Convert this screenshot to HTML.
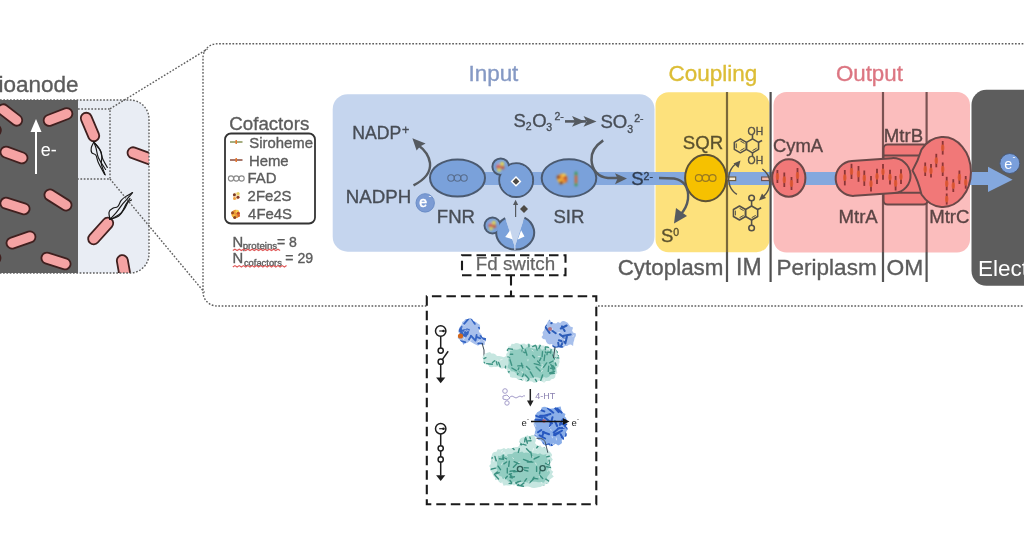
<!DOCTYPE html>
<html><head><meta charset="utf-8">
<style>
html,body{margin:0;padding:0;background:#fff;width:1024px;height:536px;overflow:hidden}
svg{display:block;will-change:transform}
text{font-family:"Liberation Sans",sans-serif}
.m{mix-blend-mode:multiply;stroke:#5c5c5c;stroke-width:0.35px}
</style></head>
<body>
<svg width="1024" height="536" viewBox="0 0 1024 536">
<defs>
  <clipPath id="darkclip"><rect x="0" y="100" width="78" height="173"/></clipPath>
  <clipPath id="lightclip"><path d="M78 100 H130 A19 19 0 0 1 149 119 V254 A19 19 0 0 1 130 273 H78 Z"/></clipPath>
  <marker id="ah" viewBox="0 0 10 10" refX="8" refY="5" markerWidth="4" markerHeight="4" orient="auto-start-reverse">
    <path d="M0 0 L10 5 L0 10 L3 5 Z" fill="#555"/></marker>
  <filter id="bl" filterUnits="userSpaceOnUse" x="-2000" y="-2000" width="5000" height="5000"><feGaussianBlur stdDeviation="1.0"/></filter>
  <filter id="bl2" filterUnits="userSpaceOnUse" x="-2000" y="-2000" width="5000" height="5000"><feGaussianBlur stdDeviation="0.5"/></filter>
</defs>
<text x="-16.6" y="92" font-size="22.5" fill="#5c5c5c" class="m">Bioanode</text>
<rect x="0" y="100" width="78" height="173" fill="#606060"/>
<path d="M78 100 H130 A19 19 0 0 1 149 119 V254 A19 19 0 0 1 130 273 H78 Z" fill="#e9edf4"/>
<g clip-path="url(#darkclip)">
<rect x="-4.0" y="109.5" width="28" height="11" rx="5.5" transform="rotate(38 10 115)" fill="#f5a3a3" stroke="#40201f" stroke-width="1.8"/>
<rect x="-26.0" y="120.5" width="28" height="11" rx="5.5" transform="rotate(30 -12 126)" fill="#f5a3a3" stroke="#40201f" stroke-width="1.8"/>
<rect x="43.0" y="111.5" width="30" height="11" rx="5.5" transform="rotate(-21 58 117)" fill="#f5a3a3" stroke="#40201f" stroke-width="1.8"/>
<rect x="0.0" y="149.5" width="28" height="11" rx="5.5" transform="rotate(20 14 155)" fill="#f5a3a3" stroke="#40201f" stroke-width="1.8"/>
<rect x="0.0" y="200.5" width="30" height="11" rx="5.5" transform="rotate(17 15 206)" fill="#f5a3a3" stroke="#40201f" stroke-width="1.8"/>
<rect x="43.0" y="194.5" width="30" height="11" rx="5.5" transform="rotate(32 58 200)" fill="#f5a3a3" stroke="#40201f" stroke-width="1.8"/>
<rect x="6.0" y="234.5" width="30" height="11" rx="5.5" transform="rotate(-19 21 240)" fill="#f5a3a3" stroke="#40201f" stroke-width="1.8"/>
<rect x="41.0" y="255.5" width="30" height="11" rx="5.5" transform="rotate(18 56 261)" fill="#f5a3a3" stroke="#40201f" stroke-width="1.8"/>
<rect x="-27.0" y="255.5" width="28" height="11" rx="5.5" transform="rotate(-20 -13 261)" fill="#f5a3a3" stroke="#40201f" stroke-width="1.8"/>
</g>
<g clip-path="url(#lightclip)">
<rect x="75.0" y="121.5" width="30" height="11" rx="5.5" transform="rotate(67 90 127)" fill="#f5a3a3" stroke="#40201f" stroke-width="1.8"/>
<rect x="127.0" y="150.5" width="30" height="11" rx="5.5" transform="rotate(20 142 156)" fill="#f5a3a3" stroke="#40201f" stroke-width="1.8"/>
<rect x="84.7" y="225.5" width="32" height="11" rx="5.5" transform="rotate(-48 100.7 231)" fill="#f5a3a3" stroke="#40201f" stroke-width="1.8"/>
<rect x="109.0" y="264.5" width="30" height="11" rx="5.5" transform="rotate(80 124 270)" fill="#f5a3a3" stroke="#40201f" stroke-width="1.8"/>
</g>
<g fill="none" stroke="#161616" stroke-width="1.15" stroke-linecap="round"><path d="M93.8 142.1 C93.4 143.0 91.6 145.8 91.3 147.6 C91.0 149.3 90.9 151.3 91.7 152.6 C92.5 153.9 94.8 153.5 95.9 155.2 C97.0 156.9 96.9 159.5 98.4 162.7 C99.9 165.9 103.7 172.5 104.7 174.5"/><path d="M93.8 142.1 C94.4 142.9 96.4 145.2 97.6 146.8 C98.8 148.4 100.2 149.9 101 151.8 C101.8 153.8 101.5 155.9 102.6 158.5 C103.6 161.1 106.5 165.9 107.3 167.4"/><path d="M93.8 142.1 C94.2 143.0 95.1 145.0 95.9 147.6 C96.7 150.2 96.8 154.0 98.4 157.7 C100.0 161.3 104.4 167.5 105.6 169.5"/><path d="M95 143.4 C95.8 144.4 98.6 147.1 99.7 149.3 C100.8 151.5 101.5 154.3 101.8 156.8 C102.1 159.3 100.8 161.4 101.4 164.4 C102.0 167.4 104.6 173.2 105.2 174.9"/><path d="M109.9 219.3 C109.8 218.1 108.5 213.8 109.1 211.9 C109.6 210.0 111.8 209.0 113.2 208.1 C114.6 207.2 116.4 207.8 117.7 206.6 C119.0 205.4 119.8 202.3 121 200.7 C122.2 199.1 123.2 198.2 125.1 196.9 C127.0 195.6 131.0 193.5 132.2 192.8"/><path d="M109.9 219.3 C111.0 218.2 114.0 215.2 116.2 212.6 C118.4 210.0 120.7 206.4 122.9 203.7 C125.1 201.0 128.0 198.1 129.6 196.2 C131.2 194.3 132.1 193.1 132.6 192.5"/><path d="M109.9 219.3 C111.3 218.8 116.0 218.0 118.4 216.3 C120.8 214.6 122.8 211.2 124.4 208.9 C126.0 206.6 126.9 203.7 128.1 202.2 C129.3 200.7 130.9 200.3 131.5 199.9"/><path d="M109.9 219.3 C110.6 219.1 112.0 218.9 113.9 217.8 C115.8 216.7 119.4 214.8 121.4 212.6 C123.4 210.4 124.5 206.8 125.9 204.4 C127.3 202.0 129.3 199.4 130 198.4"/></g>
<line x1="36" y1="174" x2="36" y2="128" stroke="#fff" stroke-width="2"/>
<path d="M30.5 132 L36 119 L41.5 132 Z" fill="#fff"/>
<text x="40.8" y="155.5" font-size="18" fill="#fff">e-</text>
<path d="M0 100 H130 A19 19 0 0 1 149 119 V254 A19 19 0 0 1 130 273 H0" stroke="#5e5e5e" stroke-width="1.4" stroke-dasharray="1.7 1.63" fill="none"/>
<path d="M78 109 H110 V179 H78" stroke="#5e5e5e" stroke-width="1.4" stroke-dasharray="1.7 1.63" fill="none"/>
<line x1="110" y1="108.8" x2="207.5" y2="49" stroke="#5e5e5e" stroke-width="1.4" stroke-dasharray="1.7 1.63" fill="none"/>
<line x1="110" y1="179" x2="204.5" y2="292.5" stroke="#5e5e5e" stroke-width="1.4" stroke-dasharray="1.7 1.63" fill="none"/>
<path d="M1030 43.8 H217 A14 14 0 0 0 203 57.8 V292 A14 14 0 0 0 217 306 H1030" fill="none" stroke="#5e5e5e" stroke-width="1.4" stroke-dasharray="1.7 1.63"/>
<rect x="332.7" y="94.2" width="321.8" height="157.5" rx="15" fill="#c5d5ee"/>
<rect x="655.5" y="92.2" width="114" height="160" rx="13" fill="#fde17c"/>
<rect x="773.5" y="92" width="196.5" height="160.5" rx="13" fill="#fbbdbd"/>
<rect x="971.5" y="89.8" width="80" height="196" rx="15" fill="#5d5d5d"/>
<text x="468.5" y="80.8" font-size="22.4" fill="#8599c4" stroke="#8599c4" stroke-width="0.35">Input</text>
<text x="668.5" y="80.6" font-size="22.5" fill="#dcbd36" stroke="#dcbd36" stroke-width="0.35">Coupling</text>
<text x="835.9" y="80.6" font-size="22.3" fill="#dc7682" stroke="#dc7682" stroke-width="0.35">Output</text>
<text x="617.7" y="274.8" font-size="22.4" fill="#5c5c5c" class="m">Cytoplasm</text>
<text x="736" y="274.8" font-size="23" fill="#5c5c5c" class="m">IM</text>
<text x="776.6" y="274.8" font-size="22.5" fill="#5c5c5c" class="m">Periplasm</text>
<text x="886.6" y="274.8" font-size="22.8" fill="#5c5c5c" class="m">OM</text>
<text x="977.9" y="276" font-size="22.5" fill="#ffffff">Electrode</text>
<rect x="450" y="172" width="540" height="13" fill="#84a8de"/>
<path d="M988 166.8 L1012.6 179.7 L988 192 Z" fill="#84a8de"/>
<line x1="727" y1="92" x2="727" y2="252" stroke="#7a683a" stroke-width="2.2"/><line x1="727" y1="252" x2="727" y2="282" stroke="#555" stroke-width="2.2"/>
<line x1="770.6" y1="92" x2="770.6" y2="282" stroke="#4f4f4f" stroke-width="2.2"/>
<line x1="883" y1="92" x2="883" y2="252" stroke="#7a5252" stroke-width="2.2"/><line x1="883" y1="252" x2="883" y2="282" stroke="#555" stroke-width="2.2"/>
<line x1="926.6" y1="92" x2="926.6" y2="252" stroke="#7a5252" stroke-width="2.2"/><line x1="926.6" y1="252" x2="926.6" y2="282" stroke="#555" stroke-width="2.2"/>
<text x="229.3" y="129.5" font-size="18.7" fill="#5c5c5c" class="m">Cofactors</text>
<rect x="225" y="133.5" width="90" height="90" rx="6" fill="none" stroke="#333" stroke-width="1.8"/>
<text x="249.3" y="148.1" font-size="14.9" fill="#5c5c5c" class="m">Siroheme</text>
<text x="248.9" y="166.1" font-size="14.9" fill="#5c5c5c" class="m">Heme</text>
<text x="247.5" y="183.4" font-size="14.9" fill="#5c5c5c" class="m">FAD</text>
<text x="247.6" y="201.4" font-size="14.9" fill="#5c5c5c" class="m">2Fe2S</text>
<text x="248.1" y="219" font-size="14.9" fill="#5c5c5c" class="m">4Fe4S</text>
<line x1="230" y1="142" x2="242.5" y2="142" stroke="#7f8a48" stroke-width="1.4"/><line x1="236.2" y1="140" x2="236.2" y2="144" stroke="#e7782e" stroke-width="1.5"/>
<line x1="230" y1="160" x2="242.5" y2="160" stroke="#8a4a3a" stroke-width="1.5"/><line x1="236.2" y1="158" x2="236.2" y2="162" stroke="#e7782e" stroke-width="1.5"/>
<g fill="none" stroke="#8a8a8a" stroke-width="1.1"><circle cx="231" cy="178.5" r="2.6"/><circle cx="236.3" cy="178.5" r="2.6"/><circle cx="241.6" cy="178.5" r="2.6"/></g>
<g transform="translate(236.3 196) scale(1.0)"><circle cx="0" cy="0" r="3.4" fill="#f5d090" opacity="0.7"/><circle cx="1.8" cy="-2.5" r="1.5" fill="#e8d060"/><circle cx="-1.8" cy="2.5" r="1.5" fill="#f0a040"/><circle cx="-1.9" cy="-1.2" r="1.5" fill="#7a3a28"/><circle cx="1.7" cy="1.2" r="1.5" fill="#8a3a28"/></g>
<g transform="translate(235.7 214) scale(1.0)"><circle cx="0" cy="0" r="4.3" fill="#eb9a3a"/><circle cx="1.5" cy="-2.5" r="1.7" fill="#f6d050"/><circle cx="-2" cy="1.8" r="1.5" fill="#f6c040"/><circle cx="-3.2" cy="-1.2" r="1.5" fill="#9a4a20"/><circle cx="2.5" cy="-0.8" r="1.5" fill="#c04a28"/><circle cx="-1" cy="3.4" r="1.5" fill="#8a4420"/><circle cx="3" cy="1.8" r="1.3" fill="#d9602a"/></g>
<text x="232.5" y="246.7" font-size="14.8" fill="#5c5c5c" class="m">N</text><text x="242.7" y="248.9" font-size="9.7" fill="#5c5c5c" class="m">proteins</text><text x="276.9" y="246.7" font-size="14.1" fill="#5c5c5c" class="m">= 8</text>
<text x="232.5" y="263" font-size="14.8" fill="#5c5c5c" class="m">N</text><text x="243.9" y="265.6" font-size="9.4" fill="#5c5c5c" class="m">cofactors</text><text x="285.3" y="263" font-size="14.1" fill="#5c5c5c" class="m">= 29</text>
<path d="M232.8 250.6 l2.15 -1.4 l2.15 1.4 l2.15 -1.4 l2.15 1.4 l2.15 -1.4 l2.15 1.4 l2.15 -1.4 l2.15 1.4 l2.15 -1.4 l2.15 1.4 l2.15 -1.4 l2.15 1.4 l2.15 -1.4 l2.15 1.4 l2.15 -1.4 l2.15 1.4 l2.15 -1.4 l2.15 1.4 l2.15 -1.4 l2.15 1.4 l2.15 -1.4 l2.15 1.4" fill="none" stroke="#e05a5a" stroke-width="1.2"/>
<path d="M232.8 267 l2.15 -1.4 l2.15 1.4 l2.15 -1.4 l2.15 1.4 l2.15 -1.4 l2.15 1.4 l2.15 -1.4 l2.15 1.4 l2.15 -1.4 l2.15 1.4 l2.15 -1.4 l2.15 1.4 l2.15 -1.4 l2.15 1.4 l2.15 -1.4 l2.15 1.4 l2.15 -1.4 l2.15 1.4 l2.15 -1.4 l2.15 1.4 l2.15 -1.4 l2.15 1.4 l2.15 -1.4 l2.15 1.4 l2.15 -1.4" fill="none" stroke="#e05a5a" stroke-width="1.2"/>
<path d="M413.5 185.4 C424 180 431 172 430 163 C429 156 425 150 418 145" fill="none" stroke="#555a60" stroke-width="2.4"/>
<path d="M412.4 138.3 L425.6 143.4 L420 146.5 L416.6 150.6 Z" fill="#555a60"/>
<text x="352.3" y="138.8" font-size="17.6" fill="#5c5c5c" class="m">NADP</text><text x="402" y="133.6" font-size="12.5" fill="#5c5c5c" class="m">+</text>
<text x="345.8" y="203" font-size="18.7" fill="#5c5c5c" class="m">NADPH</text>
<circle cx="425.2" cy="202.9" r="9.2" fill="#7b9bd4" stroke="#6a8cc6" stroke-width="1"/>
<text x="419.3" y="206.6" font-size="14" fill="#fff" stroke="#fff" stroke-width="0.5">e</text><text x="428.5" y="199.2" font-size="9" fill="#fff">-</text>
<ellipse cx="457.5" cy="178" rx="27.5" ry="18.5" fill="#7aa1da" stroke="#4b5a70" stroke-width="2"/>
<g fill="none" stroke="#4f5f78" stroke-width="1.1" opacity="0.8"><circle cx="451" cy="178" r="3.2"/><circle cx="457.5" cy="178" r="3.2"/><circle cx="464" cy="178" r="3.2"/></g>
<text x="436.8" y="222.8" font-size="18.6" fill="#5c5c5c" class="m">FNR</text>
<circle cx="516.2" cy="180.2" r="16.9" fill="#7aa1da" stroke="#4b5a70" stroke-width="2"/>
<circle cx="500.7" cy="166.7" r="8.3" fill="#7aa1da" stroke="#4b5a70" stroke-width="2"/>
<circle cx="516.2" cy="180.2" r="15.9" fill="#7aa1da"/>
<g filter="url(#bl)"><g transform="translate(500.7 166.7) scale(1.0)"><circle cx="-2.2" cy="0" r="2.2" fill="#d85a48"/><circle cx="1.8" cy="0.8" r="2" fill="#c85a40"/><circle cx="1.4" cy="-3" r="2" fill="#ecd848"/><circle cx="-1.6" cy="3.4" r="1.9" fill="#dcd858"/><circle cx="-2.5" cy="-2.8" r="1.2" fill="#c8a0c0"/></g></g>
<path d="M516 176 L521.4 181.4 L516 186.8 L510.6 181.4 Z" fill="#fff"/><path d="M516 178 L519.4 181.4 L516 184.8 L512.6 181.4 Z" fill="#4d4a45"/>
<line x1="515.6" y1="217" x2="515.6" y2="204" stroke="#555a60" stroke-width="1.2"/><path d="M513 205 L515.6 199.8 L518.2 205 Z" fill="#555a60"/>
<path d="M524 205 L528 209 L524 213 L520 209 Z" fill="#4d4a45"/>
<circle cx="492.5" cy="225.5" r="7" fill="none" stroke="#4b5a70" stroke-width="4"/>
<path d="M524 218.6 A18 16 0 1 1 505.6 219" fill="none" stroke="#4b5a70" stroke-width="4"/>
<circle cx="492.5" cy="225.5" r="7" fill="#7aa1da"/>
<path d="M524 218.6 A18 16 0 1 1 505.6 219 L514.8 247 Z" fill="#7aa1da"/>
<path d="M505.6 219 L514.8 247 L524 218.6" fill="#c5d5ee"/>
<line x1="514.8" y1="246" x2="514.9" y2="250" stroke="#c5d5ee" stroke-width="1.3"/>
<g filter="url(#bl)"><g transform="translate(492.5 225.5) scale(0.95)"><circle cx="-2.2" cy="0" r="2.2" fill="#d85a48"/><circle cx="1.8" cy="0.8" r="2" fill="#c85a40"/><circle cx="1.4" cy="-3" r="2" fill="#ecd848"/><circle cx="-1.6" cy="3.4" r="1.9" fill="#dcd858"/><circle cx="-2.5" cy="-2.8" r="1.2" fill="#c8a0c0"/></g></g>
<path d="M510.2 230.2 L505.2 236.9 L512.7 239.4 Z" fill="#fff"/><path d="M521.1 230.2 L524.5 236.5 L517.8 239.4 Z" fill="#fff"/>
<ellipse cx="569" cy="178" rx="27.3" ry="18.8" fill="#7aa1da" stroke="#4b5a70" stroke-width="2"/>
<g filter="url(#bl)"><g transform="translate(562.3 178.6) scale(1.2)"><circle cx="0" cy="0" r="4.3" fill="#eb9a3a"/><circle cx="1.5" cy="-2.5" r="1.7" fill="#f6d050"/><circle cx="-2" cy="1.8" r="1.5" fill="#f6c040"/><circle cx="-3.2" cy="-1.2" r="1.5" fill="#9a4a20"/><circle cx="2.5" cy="-0.8" r="1.5" fill="#c04a28"/><circle cx="-1" cy="3.4" r="1.5" fill="#8a4420"/><circle cx="3" cy="1.8" r="1.3" fill="#d9602a"/></g></g>
<g filter="url(#bl)"><line x1="576" y1="171.7" x2="576" y2="186.2" stroke="#3f9a52" stroke-width="2.6"/><line x1="576" y1="175.5" x2="576" y2="183" stroke="#d8643a" stroke-width="2.4"/></g>
<text x="553.4" y="222.8" font-size="18.6" fill="#5c5c5c" class="m">SIR</text>
<text x="513.6" y="127" font-size="18.5" fill="#5c5c5c" class="m">S</text><text x="525.7" y="130.3" font-size="10.5" fill="#5c5c5c" class="m">2</text><text x="532.2" y="127" font-size="18.5" fill="#5c5c5c" class="m">O</text><text x="546.2" y="130.5" font-size="10.5" fill="#5c5c5c" class="m">3</text><text x="554.4" y="119.5" font-size="10.5" fill="#5c5c5c" class="m">2-</text>
<line x1="565" y1="121.4" x2="586" y2="121.4" stroke="#555a60" stroke-width="2.6"/><path d="M572 116 L585 121.4 L572 126.8 L575 121.4 Z" fill="#555a60"/><path d="M583.5 116 L596.5 121.4 L583.5 126.8 L586.5 121.4 Z" fill="#555a60"/>
<text x="600.4" y="128.4" font-size="18.6" fill="#5c5c5c" class="m">SO</text><text x="627.2" y="132.8" font-size="10.5" fill="#5c5c5c" class="m">3</text><text x="634.2" y="122.4" font-size="10.5" fill="#5c5c5c" class="m">2-</text>
<path d="M603.2 140.4 C595 146 591 153 591.5 160 C592 170 598 177 608 178 L618 178" fill="none" stroke="#555a60" stroke-width="2.5"/>
<path d="M615 173.3 L627 178.6 L615 184.2 L617.5 178.6 Z" fill="#555a60"/>
<text x="631.3" y="185.4" font-size="18.6" fill="#5c5c5c" class="m">S</text><text x="643.6" y="180" font-size="10.5" fill="#5c5c5c" class="m">2-</text>
<ellipse cx="705.7" cy="178" rx="20.6" ry="23.2" fill="#f6c100" stroke="#5e5234" stroke-width="2"/>
<g fill="none" stroke="#9a7a20" stroke-width="1.2"><circle cx="698.8" cy="178" r="3.4"/><circle cx="705.7" cy="178" r="3.4"/><circle cx="712.6" cy="178" r="3.4"/></g>
<text x="682.8" y="148.6" font-size="18.6" fill="#5c5c5c" class="m">SQR</text>
<path d="M659 178 L674 178.5 C684 180 689 188 688 199 C687 207 683 212 680 215" fill="none" stroke="#555a60" stroke-width="2.4"/>
<path d="M674 223.5 L676 208 L687 216 Z" fill="#555a60"/>
<text x="660.9" y="242.3" font-size="18.6" fill="#5c5c5c" class="m">S</text><text x="673.3" y="235.9" font-size="10.5" fill="#5c5c5c" class="m">0</text>
<rect x="727.2" y="177" width="8.5" height="3.6" fill="#f6ead0" stroke="#6b5a3a" stroke-width="1.1"/>
<rect x="761.6" y="177" width="8.5" height="3.6" fill="#f2b8a8" stroke="#6b5050" stroke-width="1.1"/>
<path d="M736.9 194.3 C730 190 727.5 182 729 175 C730 170 732 167 735 164.5" fill="none" stroke="#55524a" stroke-width="1.4"/><path d="M740.5 160.5 L738.5 168 L733.5 163.5 Z" fill="#55524a"/>
<path d="M762.3 169 C767 172 770 178 769.8 184 C769.5 189 767 193 764 196" fill="none" stroke="#55524a" stroke-width="1.4"/><path d="M759 200.5 L762 193.5 L766 198 Z" fill="#55524a"/>
<g fill="none" stroke="#545048" stroke-width="1.55" stroke-linejoin="round"><polygon points="740.39,152.80 734.33,149.30 734.33,142.30 740.39,138.80 746.45,142.30 746.45,149.30"/><polygon points="752.51,152.80 746.45,149.30 746.45,142.30 752.51,138.80 758.57,142.30 758.57,149.30"/><line x1="736.27" y1="148.18" x2="736.27" y2="143.42" stroke-width="1"/><line x1="740.39" y1="141.04" x2="744.51" y2="143.42" stroke-width="1"/><line x1="744.51" y1="148.18" x2="740.39" y2="150.56" stroke-width="1"/><line x1="756.63" y1="148.18" x2="752.51" y2="150.56" stroke-width="1"/><line x1="758.57" y1="142.30" x2="762.07" y2="140.50"/></g>
<g stroke="#545048" stroke-width="1.55"><line x1="752.5" y1="138.8" x2="752.5" y2="135"/><line x1="752.5" y1="152.8" x2="752.5" y2="156.5"/></g>
<text x="747.6" y="134.6" font-size="10.4" fill="#545048" stroke="#545048" stroke-width="0.35">OH</text><text x="747.6" y="163.5" font-size="10.4" fill="#545048" stroke="#545048" stroke-width="0.35">OH</text>
<g fill="none" stroke="#545048" stroke-width="1.55" stroke-linejoin="round"><polygon points="739.49,220.00 733.43,216.50 733.43,209.50 739.49,206.00 745.55,209.50 745.55,216.50"/><polygon points="751.61,220.00 745.55,216.50 745.55,209.50 751.61,206.00 757.67,209.50 757.67,216.50"/><line x1="735.37" y1="215.38" x2="735.37" y2="210.62" stroke-width="1"/><line x1="739.49" y1="208.24" x2="743.61" y2="210.62" stroke-width="1"/><line x1="743.61" y1="215.38" x2="739.49" y2="217.76" stroke-width="1"/><line x1="755.73" y1="215.38" x2="751.61" y2="217.76" stroke-width="1"/><line x1="757.67" y1="209.50" x2="761.17" y2="207.70"/></g>
<g fill="none" stroke="#545048" stroke-width="1.55"><line x1="751.6" y1="206" x2="751.6" y2="201"/><line x1="751.6" y1="220" x2="751.6" y2="225"/><circle cx="751.6" cy="198" r="2.8"/><circle cx="751.6" cy="228" r="2.8"/></g>
<ellipse cx="788.8" cy="178" rx="16.6" ry="18.7" fill="#f17878" stroke="#6b4848" stroke-width="2"/>
<line x1="777.4" y1="170" x2="777.4" y2="183" stroke="#8a3535" stroke-width="1.8"/><ellipse cx="777.4" cy="176.5" rx="1.7" ry="3.4" fill="#e45a30" opacity="0.85" filter="url(#bl2)"/>
<line x1="784.3" y1="172.5" x2="784.3" y2="187" stroke="#8a3535" stroke-width="1.8"/><ellipse cx="784.3" cy="179.75" rx="1.7" ry="3.4" fill="#e45a30" opacity="0.85" filter="url(#bl2)"/>
<line x1="791.5" y1="177" x2="791.5" y2="190" stroke="#8a3535" stroke-width="1.8"/><ellipse cx="791.5" cy="183.5" rx="1.7" ry="3.4" fill="#e45a30" opacity="0.85" filter="url(#bl2)"/>
<line x1="797.5" y1="168" x2="797.5" y2="183" stroke="#8a3535" stroke-width="1.8"/><ellipse cx="797.5" cy="175.5" rx="1.7" ry="3.4" fill="#e45a30" opacity="0.85" filter="url(#bl2)"/>
<text x="773" y="151.8" font-size="18.4" fill="#5c5c5c" class="m">CymA</text>
<rect x="883.5" y="144.6" width="44" height="60" rx="4" fill="#f17878" stroke="#6b4848" stroke-width="2"/>
<line x1="883.5" y1="155.4" x2="927.5" y2="155.4" stroke="#6b4848" stroke-width="2"/><line x1="883.5" y1="192.7" x2="927.5" y2="192.7" stroke="#6b4848" stroke-width="2"/>
<rect x="835.6" y="159.5" width="75" height="35" rx="17.5" transform="rotate(-4 873 177)" fill="#f17878" stroke="#6b4848" stroke-width="2"/>
<line x1="844.8" y1="170" x2="844.8" y2="185.4" stroke="#8a3535" stroke-width="1.8"/><ellipse cx="844.8" cy="177.7" rx="1.7" ry="3.4" fill="#e45a30" opacity="0.85" filter="url(#bl2)"/>
<line x1="851.5" y1="163.8" x2="851.5" y2="179" stroke="#8a3535" stroke-width="1.8"/><ellipse cx="851.5" cy="171.4" rx="1.7" ry="3.4" fill="#e45a30" opacity="0.85" filter="url(#bl2)"/>
<line x1="858.5" y1="166" x2="858.5" y2="181.8" stroke="#8a3535" stroke-width="1.8"/><ellipse cx="858.5" cy="173.9" rx="1.7" ry="3.4" fill="#e45a30" opacity="0.85" filter="url(#bl2)"/>
<line x1="864.3" y1="170.5" x2="864.3" y2="185.9" stroke="#8a3535" stroke-width="1.8"/><ellipse cx="864.3" cy="178.2" rx="1.7" ry="3.4" fill="#e45a30" opacity="0.85" filter="url(#bl2)"/>
<line x1="871" y1="176" x2="871" y2="191.5" stroke="#8a3535" stroke-width="1.8"/><ellipse cx="871" cy="183.75" rx="1.7" ry="3.4" fill="#e45a30" opacity="0.85" filter="url(#bl2)"/>
<line x1="877" y1="168.7" x2="877" y2="184" stroke="#8a3535" stroke-width="1.8"/><ellipse cx="877" cy="176.35" rx="1.7" ry="3.4" fill="#e45a30" opacity="0.85" filter="url(#bl2)"/>
<line x1="883" y1="164" x2="883" y2="179.7" stroke="#8a3535" stroke-width="1.8"/><ellipse cx="883" cy="171.85" rx="1.7" ry="3.4" fill="#e45a30" opacity="0.85" filter="url(#bl2)"/>
<line x1="890" y1="169.7" x2="890" y2="184.6" stroke="#8a3535" stroke-width="1.8"/><ellipse cx="890" cy="177.14999999999998" rx="1.7" ry="3.4" fill="#e45a30" opacity="0.85" filter="url(#bl2)"/>
<line x1="895.6" y1="176" x2="895.6" y2="190.5" stroke="#8a3535" stroke-width="1.8"/><ellipse cx="895.6" cy="183.25" rx="1.7" ry="3.4" fill="#e45a30" opacity="0.85" filter="url(#bl2)"/>
<line x1="901" y1="169.2" x2="901" y2="184" stroke="#8a3535" stroke-width="1.8"/><ellipse cx="901" cy="176.6" rx="1.7" ry="3.4" fill="#e45a30" opacity="0.85" filter="url(#bl2)"/>
<path d="M912.5 170.5 Q918 161 921.5 149.5 A28 35 0 1 1 921.5 194.5 Q918 180 912.5 170.5 Z" fill="#f17878" stroke="#6b4848" stroke-width="2" stroke-linejoin="round"/>
<line x1="942.7" y1="141" x2="942.7" y2="154.6" stroke="#8a3535" stroke-width="1.8"/><ellipse cx="942.7" cy="147.8" rx="1.7" ry="3.4" fill="#e45a30" opacity="0.85" filter="url(#bl2)"/>
<line x1="936.3" y1="153.8" x2="936.3" y2="167.3" stroke="#8a3535" stroke-width="1.8"/><ellipse cx="936.3" cy="160.55" rx="1.7" ry="3.4" fill="#e45a30" opacity="0.85" filter="url(#bl2)"/>
<line x1="942.7" y1="162.5" x2="942.7" y2="176" stroke="#8a3535" stroke-width="1.8"/><ellipse cx="942.7" cy="169.25" rx="1.7" ry="3.4" fill="#e45a30" opacity="0.85" filter="url(#bl2)"/>
<line x1="925.2" y1="162.5" x2="925.2" y2="176" stroke="#8a3535" stroke-width="1.8"/><ellipse cx="925.2" cy="169.25" rx="1.7" ry="3.4" fill="#e45a30" opacity="0.85" filter="url(#bl2)"/>
<line x1="931" y1="164" x2="931" y2="177.6" stroke="#8a3535" stroke-width="1.8"/><ellipse cx="931" cy="170.8" rx="1.7" ry="3.4" fill="#e45a30" opacity="0.85" filter="url(#bl2)"/>
<line x1="946.7" y1="176.8" x2="946.7" y2="190.3" stroke="#8a3535" stroke-width="1.8"/><ellipse cx="946.7" cy="183.55" rx="1.7" ry="3.4" fill="#e45a30" opacity="0.85" filter="url(#bl2)"/>
<line x1="946.7" y1="193.5" x2="946.7" y2="204.6" stroke="#8a3535" stroke-width="1.8"/><ellipse cx="946.7" cy="199.05" rx="1.7" ry="3.4" fill="#e45a30" opacity="0.85" filter="url(#bl2)"/>
<line x1="953.3" y1="179.2" x2="953.3" y2="192" stroke="#8a3535" stroke-width="1.8"/><ellipse cx="953.3" cy="185.6" rx="1.7" ry="3.4" fill="#e45a30" opacity="0.85" filter="url(#bl2)"/>
<line x1="959.4" y1="170.5" x2="959.4" y2="184" stroke="#8a3535" stroke-width="1.8"/><ellipse cx="959.4" cy="177.25" rx="1.7" ry="3.4" fill="#e45a30" opacity="0.85" filter="url(#bl2)"/>
<line x1="965.7" y1="176" x2="965.7" y2="188.7" stroke="#8a3535" stroke-width="1.8"/><ellipse cx="965.7" cy="182.35" rx="1.7" ry="3.4" fill="#e45a30" opacity="0.85" filter="url(#bl2)"/>
<text x="883.8" y="141.5" font-size="18.6" fill="#5c5c5c" class="m">MtrB</text>
<text x="838.5" y="222.7" font-size="18.6" fill="#5c5c5c" class="m">MtrA</text>
<text x="929.2" y="222.7" font-size="18.6" fill="#5c5c5c" class="m">MtrC</text>
<circle cx="1009.8" cy="163.5" r="10" fill="#7a9fdb" stroke="#4a5a78" stroke-width="1"/>
<text x="1004.3" y="168.8" font-size="14.5" fill="#fff">e</text><text x="1012.6" y="160.3" font-size="9" fill="#fff">-</text>
<text x="475.8" y="269.7" font-size="18.8" fill="#666666" class="m" style="stroke:#666;stroke-width:0.25px">Fd switch</text>
<path d="M471 255.2 H462 V275.2 H565.5 V255.2 H471" fill="none" stroke="#1a1a1a" stroke-width="2.1" stroke-dasharray="9.5 5" stroke-dashoffset="0"/>
<rect x="426.8" y="296.3" width="169.5" height="207.9" fill="#fff"/>
<path d="M511 276 V296.3 H596.3 V504.2 H426.8 V296.3 H511" fill="none" stroke="#1a1a1a" stroke-width="2.1" stroke-dasharray="9.5 5"/>
<g fill="none" stroke="#1e1e1e" stroke-width="1.5"><circle cx="440.7" cy="331" r="5.2"/><line x1="439.2" y1="331" x2="443.2" y2="331" stroke-width="1.2"/><line x1="440.7" y1="336.2" x2="440.7" y2="348"/><circle cx="440.7" cy="350.6" r="2.6"/><line x1="442.3" y1="359.6" x2="448.2" y2="351.3"/><circle cx="440.7" cy="361.7" r="2.6"/><line x1="440.7" y1="364.3" x2="440.7" y2="378"/></g><circle cx="443.5" cy="331" r="1.3" fill="#1e1e1e"/><path d="M436.09999999999997 377.5 L445.3 377.5 L440.7 383.3 Z" fill="#1e1e1e"/>
<g fill="none" stroke="#1e1e1e" stroke-width="1.5"><circle cx="440.7" cy="428.7" r="5.2"/><line x1="439.2" y1="428.7" x2="443.2" y2="428.7" stroke-width="1.2"/><line x1="440.7" y1="433.9" x2="440.7" y2="445.7"/><circle cx="440.7" cy="448.3" r="2.6"/><line x1="440.7" y1="450.9" x2="440.7" y2="456.8"/><circle cx="440.7" cy="459.4" r="2.6"/><line x1="440.7" y1="462.0" x2="440.7" y2="475.7"/></g><circle cx="443.5" cy="428.7" r="1.3" fill="#1e1e1e"/><path d="M436.09999999999997 475.2 L445.3 475.2 L440.7 481.0 Z" fill="#1e1e1e"/>
<clipPath id="p1"><path d="M462.1 322.1 L463.9 320.9 L465.5 319.1 L468.0 319.1 L470.0 318.0 L472.1 319.2 L473.6 321.3 L476.0 322.0 L477.9 323.4 L479.8 324.8 L480.1 326.7 L479.9 328.9 L478.7 330.7 L479.5 332.4 L481.3 334.3 L482.3 337.2 L486.1 338.2 L485.8 340.5 L484.7 342.7 L484.0 345.3 L481.9 344.4 L479.9 344.3 L478.0 345.8 L476.6 345.1 L474.4 344.0 L472.3 342.8 L469.6 340.9 L468.0 342.6 L466.0 343.2 L463.4 344.6 L462.5 342.5 L460.8 341.2 L459.5 339.5 L457.6 337.9 L458.6 336.0 L459.5 334.1 L458.3 331.7 L458.8 329.7 L459.7 327.8 L460.5 325.9 L461.9 324.1 Z"/></clipPath><path d="M462.1 322.1 L463.9 320.9 L465.5 319.1 L468.0 319.1 L470.0 318.0 L472.1 319.2 L473.6 321.3 L476.0 322.0 L477.9 323.4 L479.8 324.8 L480.1 326.7 L479.9 328.9 L478.7 330.7 L479.5 332.4 L481.3 334.3 L482.3 337.2 L486.1 338.2 L485.8 340.5 L484.7 342.7 L484.0 345.3 L481.9 344.4 L479.9 344.3 L478.0 345.8 L476.6 345.1 L474.4 344.0 L472.3 342.8 L469.6 340.9 L468.0 342.6 L466.0 343.2 L463.4 344.6 L462.5 342.5 L460.8 341.2 L459.5 339.5 L457.6 337.9 L458.6 336.0 L459.5 334.1 L458.3 331.7 L458.8 329.7 L459.7 327.8 L460.5 325.9 L461.9 324.1 Z" fill="#a8c0ec"/><path d="M470.8 336.4 l-1.8 3.1 M458.3 328.5 l4.1 4.7 M476.6 334.8 l-1.0 5.6 M461.9 330.3 l5.8 3.2 M459.6 340.9 l5.6 1.3 M467.1 329.3 l-2.7 1.5 M459.6 343.6 l-0.1 3.4 M484.7 344.5 l4.4 1.6 M461.6 326.8 l-1.4 3.4 M476.8 319.4 l5.4 3.2 M468.8 329.7 l-1.5 4.7 M468.4 318.9 l-4.5 5.2 M484.4 336.6 l1.9 4.0 M476.6 336.9 l3.7 1.4 M467.8 332.3 l-4.1 2.8 M458.8 341.0 l1.1 5.0 M464.0 330.0 l2.1 5.7 M460.8 333.4 l4.9 3.1 M459.0 325.7 l2.6 4.9 M459.4 330.9 l3.3 2.5 M470.9 344.8 l0.4 6.8 M462.5 343.9 l1.6 3.4 M478.2 343.5 l4.1 0.1 M478.8 327.6 l2.2 2.1 M459.1 335.3 l-7.0 0.4 M471.6 318.7 l3.3 5.2 M480.5 335.9 l3.8 3.4 M470.9 335.6 l4.6 5.0 " clip-path="url(#p1)" stroke="#3565c4" stroke-width="1.8" stroke-linecap="round" fill="none" opacity="1.0"/><path d="M465.0 337.2 l-1.5 2.3 M463.0 324.5 l1.3 0.6 M477.8 321.6 l-0.1 1.4 M466.0 330.1 l-1.9 1.1 M458.4 325.7 l2.5 1.2 M479.9 340.6 l-2.1 1.3 M483.6 340.2 l1.9 1.9 M471.1 339.1 l-0.4 1.8 M467.8 330.0 l0.7 1.0 " clip-path="url(#p1)" stroke="#ffffff" stroke-width="1.0" stroke-linecap="round" fill="none" opacity="0.55"/>
<circle cx="460.5" cy="336" r="2.6" fill="#d2681e"/>
<path d="M482 343 Q485 350 484 357" stroke="#3d4a55" stroke-width="1" fill="none"/>
<clipPath id="p2"><path d="M483.3 355.7 L485.2 353.6 L487.5 352.7 L490.0 352.0 L491.4 353.6 L493.8 353.4 L495.6 354.4 L497.0 356.0 L499.2 356.0 L501.5 356.6 L503.8 357.2 L506.3 356.1 L506.2 354.0 L507.8 352.2 L506.5 349.9 L508.2 348.1 L508.2 346.6 L510.3 346.6 L511.7 343.8 L513.9 343.9 L515.8 343.1 L517.9 343.2 L519.9 344.1 L522.1 343.7 L524.3 343.6 L526.3 344.8 L528.7 343.1 L530.7 344.7 L532.7 345.5 L535.1 344.2 L537.1 346.1 L539.4 344.3 L541.5 345.6 L543.7 345.5 L545.8 346.2 L548.0 346.0 L549.9 347.7 L552.0 349.0 L555.1 348.2 L556.4 350.1 L558.0 351.9 L557.0 354.1 L559.1 355.8 L559.3 357.8 L559.3 359.9 L559.6 362.1 L558.7 364.2 L558.5 366.5 L556.6 368.3 L556.9 370.7 L557.3 373.0 L555.5 374.5 L555.2 377.2 L553.7 378.7 L551.3 379.3 L550.0 380.7 L548.0 381.1 L546.0 381.1 L544.1 382.7 L542.0 381.4 L539.9 380.7 L538.1 381.0 L536.0 382.4 L533.9 382.8 L532.0 381.5 L530.0 381.3 L528.0 381.3 L525.9 381.6 L524.1 379.9 L521.9 380.4 L520.0 379.8 L517.9 379.6 L516.2 378.1 L514.2 377.7 L512.3 377.8 L510.0 377.0 L509.9 374.6 L508.2 373.3 L507.6 371.3 L506.4 369.1 L504.5 368.1 L501.7 368.7 L499.9 367.7 L498.0 366.5 L496.0 367.0 L494.0 366.8 L491.9 367.2 L489.4 366.9 L488.1 364.5 L485.3 364.3 L482.9 362.2 L483.5 359.7 L482.4 357.5 Z"/></clipPath><path d="M483.3 355.7 L485.2 353.6 L487.5 352.7 L490.0 352.0 L491.4 353.6 L493.8 353.4 L495.6 354.4 L497.0 356.0 L499.2 356.0 L501.5 356.6 L503.8 357.2 L506.3 356.1 L506.2 354.0 L507.8 352.2 L506.5 349.9 L508.2 348.1 L508.2 346.6 L510.3 346.6 L511.7 343.8 L513.9 343.9 L515.8 343.1 L517.9 343.2 L519.9 344.1 L522.1 343.7 L524.3 343.6 L526.3 344.8 L528.7 343.1 L530.7 344.7 L532.7 345.5 L535.1 344.2 L537.1 346.1 L539.4 344.3 L541.5 345.6 L543.7 345.5 L545.8 346.2 L548.0 346.0 L549.9 347.7 L552.0 349.0 L555.1 348.2 L556.4 350.1 L558.0 351.9 L557.0 354.1 L559.1 355.8 L559.3 357.8 L559.3 359.9 L559.6 362.1 L558.7 364.2 L558.5 366.5 L556.6 368.3 L556.9 370.7 L557.3 373.0 L555.5 374.5 L555.2 377.2 L553.7 378.7 L551.3 379.3 L550.0 380.7 L548.0 381.1 L546.0 381.1 L544.1 382.7 L542.0 381.4 L539.9 380.7 L538.1 381.0 L536.0 382.4 L533.9 382.8 L532.0 381.5 L530.0 381.3 L528.0 381.3 L525.9 381.6 L524.1 379.9 L521.9 380.4 L520.0 379.8 L517.9 379.6 L516.2 378.1 L514.2 377.7 L512.3 377.8 L510.0 377.0 L509.9 374.6 L508.2 373.3 L507.6 371.3 L506.4 369.1 L504.5 368.1 L501.7 368.7 L499.9 367.7 L498.0 366.5 L496.0 367.0 L494.0 366.8 L491.9 367.2 L489.4 366.9 L488.1 364.5 L485.3 364.3 L482.9 362.2 L483.5 359.7 L482.4 357.5 Z" fill="#c6e6e0"/><path d="M510.1 350.8 L512.1 350.4 L514.0 349.2 L516.1 349.7 L518.1 349.5 L520.0 348.6 L522.0 348.4 L524.1 348.5 L526.0 347.8 L527.9 346.6 L529.8 347.7 L531.9 348.0 L533.8 348.8 L535.9 348.8 L537.8 349.5 L540.2 348.1 L541.9 349.9 L544.2 349.0 L545.8 351.1 L548.2 350.0 L550.0 351.2 L552.1 351.2 L554.3 352.0 L553.8 354.1 L553.9 356.1 L555.0 358.0 L554.2 360.1 L554.1 362.1 L555.9 363.9 L555.8 366.0 L555.3 368.1 L556.0 370.0 L555.0 372.2 L552.5 372.9 L550.7 374.3 L549.5 376.3 L548.0 377.3 L546.0 377.7 L544.0 376.9 L542.0 378.3 L540.0 378.3 L538.0 377.4 L536.0 377.3 L534.0 377.0 L532.0 378.3 L530.0 378.1 L528.0 377.6 L526.0 376.6 L524.0 376.5 L522.0 377.6 L520.4 376.5 L518.1 376.0 L516.7 374.3 L515.4 372.4 L513.5 371.4 L510.9 371.2 L509.9 369.0 L507.7 368.0 L507.7 365.9 L508.6 364.0 L508.7 362.0 L508.2 359.9 L508.7 357.9 L509.3 356.0 L509.5 354.0 L509.9 352.0 Z" fill="#92cdc1" clip-path="url(#p2)"/><path d="M555.8 348.5 l6.0 0.4 M497.0 347.7 l-1.5 3.0 M550.6 352.0 l-3.3 0.4 M528.7 379.4 l-3.1 4.8 M536.8 344.9 l-4.1 1.6 M506.6 350.4 l-3.9 2.0 M554.3 373.2 l-4.2 0.5 M536.1 366.9 l4.0 4.2 M506.7 373.5 l-4.6 0.7 M493.8 375.2 l-1.4 2.4 M486.7 363.7 l5.7 0.6 M521.5 363.2 l1.3 4.5 M552.7 355.0 l1.7 4.0 M505.6 366.2 l-0.5 3.7 M534.2 363.6 l5.8 1.6 M510.0 359.8 l1.7 5.5 M555.4 363.0 l0.7 2.3 M551.1 349.7 l-0.5 3.4 M507.9 356.9 l1.8 1.2 M523.7 374.0 l-1.3 2.5 M535.7 345.0 l1.5 5.1 M553.0 361.0 l-3.5 1.9 M522.8 365.8 l-5.0 0.1 M519.0 371.4 l-1.5 3.1 M542.6 375.0 l-1.9 5.4 M484.4 362.5 l-1.4 3.1 M496.0 370.0 l0.6 3.0 M486.2 380.7 l1.1 2.2 M499.4 352.9 l-2.5 1.1 M504.0 346.8 l0.3 2.8 M509.2 371.7 l-5.2 1.2 M485.9 357.7 l-1.9 1.0 M498.4 362.1 l1.8 4.7 M537.6 361.1 l2.1 2.1 M503.2 345.5 l-1.3 2.3 M550.6 368.2 l3.9 0.7 M528.9 344.6 l0.1 2.1 M541.2 343.2 l-2.4 5.4 M547.3 352.1 l-0.3 2.5 M509.0 376.7 l-1.7 1.1 M511.9 368.0 l4.4 2.7 M550.9 364.5 l2.3 4.9 M522.0 350.3 l1.7 2.0 M546.7 362.9 l-3.1 4.3 M557.0 350.4 l1.6 5.3 M540.9 358.1 l-1.3 2.5 M495.3 345.0 l1.1 2.7 M522.3 380.8 l3.8 2.0 M548.7 366.3 l-0.4 5.1 M484.7 380.0 l-2.9 4.4 M545.7 346.8 l2.7 0.6 M521.4 379.6 l-3.5 1.0 M530.3 371.9 l3.0 5.1 M554.6 371.4 l-5.0 1.6 M532.6 355.5 l1.9 2.3 M487.4 379.1 l1.2 1.7 M507.0 347.0 l0.6 3.3 M496.3 361.6 l0.9 3.3 M544.8 355.0 l-0.7 5.5 M555.9 357.6 l5.8 0.7 M522.1 351.5 l2.7 1.2 M506.6 348.4 l5.9 0.9 M545.3 347.4 l0.3 5.2 M521.3 345.7 l1.7 3.1 M552.5 365.7 l0.6 4.5 M486.7 369.8 l-3.9 2.7 M510.4 354.2 l2.3 0.1 M494.7 360.7 l-2.2 1.8 M518.9 367.8 l-0.8 1.9 M553.0 365.8 l1.7 2.4 M535.4 379.4 l1.8 3.1 M525.3 349.8 l1.7 5.4 M525.3 375.1 l3.7 4.0 M542.5 351.8 l-0.4 4.7 M526.5 366.5 l3.1 2.9 " clip-path="url(#p2)" stroke="#3f9484" stroke-width="1.4" stroke-linecap="round" fill="none" opacity="1.0"/><path d="M553.3 380.0 l-1.1 0.4 M528.0 359.5 l-0.1 1.3 M497.6 360.3 l1.5 1.2 M484.9 346.3 l-1.1 1.5 M522.0 371.6 l0.5 1.0 M542.5 366.0 l-1.1 2.0 M556.8 357.1 l-1.3 1.2 M526.5 368.8 l0.6 1.0 M519.0 371.0 l-0.5 1.8 M531.8 350.1 l1.4 0.9 M545.0 350.6 l1.1 0.4 M486.0 353.7 l-0.6 2.6 M508.1 357.4 l1.0 1.3 M542.1 364.4 l0.8 0.9 M542.6 370.6 l-1.3 0.8 M524.5 378.8 l-0.8 2.8 M495.7 381.0 l1.8 0.3 M484.8 374.6 l-1.6 2.5 M544.2 380.0 l-0.4 3.0 M539.9 356.5 l-1.7 0.1 M497.7 346.0 l0.1 1.4 M554.0 380.1 l0.9 0.8 M523.2 349.6 l-0.4 2.6 M502.2 359.4 l-1.8 0.6 M509.1 377.8 l-2.3 1.5 " clip-path="url(#p2)" stroke="#ffffff" stroke-width="1.0" stroke-linecap="round" fill="none" opacity="0.55"/>
<clipPath id="p3"><path d="M544.9 326.7 L546.4 324.6 L547.5 322.2 L549.2 319.6 L551.0 321.8 L553.3 322.9 L556.1 323.6 L557.9 322.0 L560.2 323.0 L561.9 321.2 L563.9 321.0 L565.3 321.6 L567.6 322.7 L568.9 324.6 L570.3 326.4 L573.1 327.5 L572.1 330.4 L573.0 332.5 L575.9 333.5 L575.8 335.9 L574.6 338.0 L574.1 340.4 L573.4 342.6 L573.1 346.1 L570.9 344.6 L568.9 344.8 L567.0 346.0 L565.0 346.1 L563.3 347.6 L561.2 347.8 L558.9 347.2 L557.3 347.4 L554.8 347.7 L552.8 347.0 L552.1 344.0 L549.5 344.5 L547.4 343.6 L546.2 341.8 L545.5 339.5 L543.0 339.0 L541.5 336.9 L543.1 334.9 L542.5 332.5 L543.9 330.5 L544.7 328.4 Z"/></clipPath><path d="M544.9 326.7 L546.4 324.6 L547.5 322.2 L549.2 319.6 L551.0 321.8 L553.3 322.9 L556.1 323.6 L557.9 322.0 L560.2 323.0 L561.9 321.2 L563.9 321.0 L565.3 321.6 L567.6 322.7 L568.9 324.6 L570.3 326.4 L573.1 327.5 L572.1 330.4 L573.0 332.5 L575.9 333.5 L575.8 335.9 L574.6 338.0 L574.1 340.4 L573.4 342.6 L573.1 346.1 L570.9 344.6 L568.9 344.8 L567.0 346.0 L565.0 346.1 L563.3 347.6 L561.2 347.8 L558.9 347.2 L557.3 347.4 L554.8 347.7 L552.8 347.0 L552.1 344.0 L549.5 344.5 L547.4 343.6 L546.2 341.8 L545.5 339.5 L543.0 339.0 L541.5 336.9 L543.1 334.9 L542.5 332.5 L543.9 330.5 L544.7 328.4 Z" fill="#a8c0ec"/><path d="M544.6 326.0 l4.9 6.9 M558.9 340.2 l6.2 2.0 M570.7 334.6 l-8.3 1.5 M554.6 320.0 l-3.3 3.2 M542.3 340.5 l-7.2 3.9 M574.4 325.6 l4.5 1.2 M575.2 323.1 l3.6 2.0 M543.7 321.1 l2.1 4.3 M552.5 346.0 l7.0 4.1 M567.1 335.9 l-1.8 7.6 M562.0 326.4 l2.7 4.5 M555.6 347.6 l1.0 4.2 M558.2 342.8 l1.3 7.4 M545.1 321.7 l-2.1 3.7 M552.3 330.8 l3.4 2.4 M542.2 346.6 l-4.9 7.3 M558.7 346.7 l-6.4 3.0 M559.9 334.2 l4.5 3.8 M566.6 325.5 l-5.8 3.0 M562.5 343.0 l-2.1 4.2 M550.4 320.0 l8.7 0.8 M562.2 347.1 l-4.3 3.5 " clip-path="url(#p3)" stroke="#2c5cb8" stroke-width="2.0" stroke-linecap="round" fill="none" opacity="1.0"/><path d="M561.4 337.7 l-1.3 0.8 M564.2 344.9 l-1.3 0.4 M564.2 337.3 l-0.0 2.9 M560.0 332.5 l-2.2 0.4 M552.2 328.7 l0.0 1.1 M562.7 340.6 l0.6 2.6 M573.6 335.6 l-0.7 1.0 " clip-path="url(#p3)" stroke="#ffffff" stroke-width="1.0" stroke-linecap="round" fill="none" opacity="0.55"/>
<circle cx="550" cy="329" r="2" fill="#b07080"/>
<path d="M555 347 L553.5 358" stroke="#3d4a55" stroke-width="1" fill="none"/>
<g fill="none" stroke="#9a92c4" stroke-width="0.9"><circle cx="505" cy="391" r="2.3"/><circle cx="507" cy="403" r="2.2"/><path d="M503 396 L507 395 L510 398 L507 400 L503 399 Z"/><path d="M510 397 q2 -2 4 0 q2 2 4 0 q2 -2 4 0 q2 -2 3 -1"/></g>
<line x1="530.3" y1="389" x2="530.3" y2="402" stroke="#222" stroke-width="1.5"/><path d="M527 400.5 L530.3 406.6 L533.6 400.5 Z" fill="#222"/>
<text x="535.2" y="399.4" font-size="9" fill="#8a80b0">4-HT</text>
<clipPath id="p4"><path d="M537.2 412.2 L539.1 411.3 L541.0 410.2 L541.7 407.4 L544.0 406.8 L546.1 407.1 L548.0 407.9 L549.9 408.8 L551.9 408.5 L554.0 408.3 L555.8 407.3 L557.9 407.1 L560.7 406.5 L561.1 408.8 L561.8 411.0 L563.1 412.7 L565.5 413.9 L564.6 416.2 L566.2 417.9 L566.5 419.9 L565.6 422.2 L567.7 424.1 L565.7 425.9 L567.5 428.1 L567.3 430.1 L565.7 431.9 L566.7 434.0 L566.4 436.3 L564.1 437.1 L563.9 439.4 L561.7 440.3 L562.0 443.0 L560.1 444.4 L558.2 445.5 L555.8 443.7 L553.9 444.8 L552.1 445.9 L549.9 446.2 L548.3 444.5 L545.7 445.4 L543.7 444.5 L542.3 442.7 L540.9 440.6 L538.2 439.8 L536.9 437.6 L534.6 436.0 L534.8 434.0 L534.9 432.0 L535.6 429.9 L535.2 427.9 L534.3 426.0 L533.5 423.9 L534.7 422.0 L534.4 419.9 L535.4 418.0 L535.1 415.8 L536.1 413.9 Z"/></clipPath><path d="M537.2 412.2 L539.1 411.3 L541.0 410.2 L541.7 407.4 L544.0 406.8 L546.1 407.1 L548.0 407.9 L549.9 408.8 L551.9 408.5 L554.0 408.3 L555.8 407.3 L557.9 407.1 L560.7 406.5 L561.1 408.8 L561.8 411.0 L563.1 412.7 L565.5 413.9 L564.6 416.2 L566.2 417.9 L566.5 419.9 L565.6 422.2 L567.7 424.1 L565.7 425.9 L567.5 428.1 L567.3 430.1 L565.7 431.9 L566.7 434.0 L566.4 436.3 L564.1 437.1 L563.9 439.4 L561.7 440.3 L562.0 443.0 L560.1 444.4 L558.2 445.5 L555.8 443.7 L553.9 444.8 L552.1 445.9 L549.9 446.2 L548.3 444.5 L545.7 445.4 L543.7 444.5 L542.3 442.7 L540.9 440.6 L538.2 439.8 L536.9 437.6 L534.6 436.0 L534.8 434.0 L534.9 432.0 L535.6 429.9 L535.2 427.9 L534.3 426.0 L533.5 423.9 L534.7 422.0 L534.4 419.9 L535.4 418.0 L535.1 415.8 L536.1 413.9 Z" fill="#8aaee8"/><path d="M555.1 408.0 l3.5 4.1 M558.3 433.4 l-4.3 1.5 M547.9 408.2 l5.4 4.5 M534.9 414.8 l-3.3 6.5 M541.3 430.0 l-3.3 2.3 M560.6 434.2 l2.4 4.3 M565.6 420.1 l4.4 1.3 M562.0 430.5 l-6.9 4.8 M551.7 445.0 l2.7 6.8 M561.4 431.1 l-6.8 3.1 M557.3 408.8 l4.3 3.8 M536.6 416.1 l5.4 1.8 M555.0 421.2 l2.1 4.8 M542.8 443.5 l-3.4 6.8 M539.6 435.4 l5.5 3.1 M566.7 432.0 l-1.4 8.0 M561.8 437.3 l3.2 2.8 M544.4 417.4 l7.6 5.9 M562.9 419.3 l-3.0 5.6 M564.2 424.9 l3.7 4.1 M552.5 417.2 l-2.5 9.1 M547.2 415.6 l-7.1 0.1 M537.0 408.8 l7.3 2.6 M560.1 423.5 l6.2 1.2 M566.9 427.6 l-9.1 0.8 M534.4 435.1 l-3.9 6.1 M542.8 432.0 l6.2 2.3 M549.0 444.2 l-5.2 2.1 M550.5 414.0 l-8.9 2.5 M543.8 431.9 l-1.7 4.6 M559.2 428.0 l-5.5 4.6 M534.0 419.6 l9.6 0.6 " clip-path="url(#p4)" stroke="#2858c0" stroke-width="2.0" stroke-linecap="round" fill="none" opacity="1.0"/><path d="M535.3 434.2 l1.7 0.8 M556.2 437.9 l0.3 2.0 M534.6 423.9 l1.1 2.5 M552.1 436.5 l0.3 1.3 M562.1 439.0 l0.5 1.1 M550.9 426.3 l-1.7 1.4 M550.7 429.4 l0.4 1.0 M536.0 443.7 l-1.4 0.8 M563.3 427.4 l2.6 0.9 M553.3 443.4 l-0.6 1.0 " clip-path="url(#p4)" stroke="#ffffff" stroke-width="1.0" stroke-linecap="round" fill="none" opacity="0.55"/>
<circle cx="544" cy="421" r="1.8" fill="#c06070"/>
<clipPath id="p5"><path d="M492.3 453.6 L494.0 452.0 L496.4 451.7 L497.7 449.3 L500.0 449.6 L502.0 448.9 L504.0 448.0 L506.0 449.2 L508.0 447.9 L509.8 448.5 L512.0 448.3 L513.9 447.5 L515.9 447.0 L518.1 446.9 L518.8 445.9 L520.5 443.8 L519.3 441.4 L519.9 439.2 L521.2 438.1 L523.3 437.2 L525.3 436.4 L527.4 435.3 L529.8 436.4 L531.8 435.1 L533.7 435.1 L535.1 436.9 L535.8 438.8 L535.8 440.9 L534.9 443.1 L536.2 444.4 L537.9 445.9 L540.3 445.8 L542.0 447.5 L544.4 447.3 L546.8 448.2 L548.1 449.9 L549.6 451.4 L551.0 453.0 L552.2 455.0 L551.0 457.1 L552.8 459.5 L551.3 461.6 L550.0 463.7 L550.8 466.0 L551.2 468.0 L551.1 470.1 L553.3 471.8 L551.7 474.2 L553.8 476.5 L551.9 478.1 L549.8 479.6 L549.0 481.8 L548.0 483.9 L545.8 483.6 L544.2 485.6 L542.1 485.9 L540.3 487.1 L538.2 487.3 L536.0 487.7 L533.9 488.1 L531.9 487.8 L530.0 487.0 L528.0 486.6 L526.0 486.4 L524.0 487.0 L521.9 487.1 L520.0 486.8 L517.9 486.7 L516.1 484.6 L514.0 485.4 L512.1 484.5 L510.0 485.6 L508.0 485.4 L506.0 485.3 L503.5 485.7 L502.7 483.3 L500.4 483.1 L498.9 481.7 L497.7 479.8 L495.0 480.1 L495.0 477.7 L493.4 476.0 L492.6 474.0 L491.8 472.1 L490.2 470.4 L490.5 468.0 L489.1 465.9 L490.8 463.9 L490.7 461.7 L491.8 459.6 L491.0 457.3 L491.9 455.2 Z"/></clipPath><path d="M492.3 453.6 L494.0 452.0 L496.4 451.7 L497.7 449.3 L500.0 449.6 L502.0 448.9 L504.0 448.0 L506.0 449.2 L508.0 447.9 L509.8 448.5 L512.0 448.3 L513.9 447.5 L515.9 447.0 L518.1 446.9 L518.8 445.9 L520.5 443.8 L519.3 441.4 L519.9 439.2 L521.2 438.1 L523.3 437.2 L525.3 436.4 L527.4 435.3 L529.8 436.4 L531.8 435.1 L533.7 435.1 L535.1 436.9 L535.8 438.8 L535.8 440.9 L534.9 443.1 L536.2 444.4 L537.9 445.9 L540.3 445.8 L542.0 447.5 L544.4 447.3 L546.8 448.2 L548.1 449.9 L549.6 451.4 L551.0 453.0 L552.2 455.0 L551.0 457.1 L552.8 459.5 L551.3 461.6 L550.0 463.7 L550.8 466.0 L551.2 468.0 L551.1 470.1 L553.3 471.8 L551.7 474.2 L553.8 476.5 L551.9 478.1 L549.8 479.6 L549.0 481.8 L548.0 483.9 L545.8 483.6 L544.2 485.6 L542.1 485.9 L540.3 487.1 L538.2 487.3 L536.0 487.7 L533.9 488.1 L531.9 487.8 L530.0 487.0 L528.0 486.6 L526.0 486.4 L524.0 487.0 L521.9 487.1 L520.0 486.8 L517.9 486.7 L516.1 484.6 L514.0 485.4 L512.1 484.5 L510.0 485.6 L508.0 485.4 L506.0 485.3 L503.5 485.7 L502.7 483.3 L500.4 483.1 L498.9 481.7 L497.7 479.8 L495.0 480.1 L495.0 477.7 L493.4 476.0 L492.6 474.0 L491.8 472.1 L490.2 470.4 L490.5 468.0 L489.1 465.9 L490.8 463.9 L490.7 461.7 L491.8 459.6 L491.0 457.3 L491.9 455.2 Z" fill="#c6e6e0"/><path d="M498.0 455.8 L500.1 456.2 L501.9 455.0 L503.8 454.0 L506.2 455.4 L508.0 454.3 L510.1 454.1 L512.1 453.9 L513.9 452.3 L515.8 451.8 L517.9 451.8 L520.0 452.2 L522.1 451.4 L523.9 453.1 L526.0 452.5 L528.0 452.7 L529.9 453.6 L532.0 452.8 L534.0 453.3 L536.0 453.5 L537.9 454.2 L540.0 453.2 L541.9 454.4 L543.9 454.8 L546.7 453.9 L546.0 456.1 L547.0 458.0 L547.6 459.9 L548.1 461.9 L548.8 463.8 L547.7 466.1 L548.7 468.0 L548.5 470.1 L550.0 471.9 L549.6 473.7 L548.4 475.3 L547.2 476.9 L546.8 479.1 L545.2 480.4 L544.0 482.7 L542.0 482.2 L540.0 482.2 L538.0 482.3 L536.0 481.7 L534.0 481.8 L532.0 481.6 L530.0 481.4 L528.0 482.8 L526.0 482.2 L524.0 481.9 L522.0 482.2 L520.0 481.4 L518.0 482.8 L516.0 482.0 L514.0 481.6 L512.0 482.4 L510.0 482.0 L508.0 481.4 L506.9 479.4 L504.3 479.8 L502.6 478.7 L501.6 476.4 L499.5 476.0 L498.2 474.2 L496.9 474.1 L496.8 472.1 L497.3 470.1 L495.8 467.9 L496.9 466.0 L497.0 464.0 L496.9 462.0 L498.0 460.0 L497.8 458.0 Z" fill="#92cdc1" clip-path="url(#p5)"/><path d="M551.6 437.8 l-2.6 3.0 M549.3 456.2 l-2.6 0.7 M552.7 456.5 l2.8 1.8 M529.7 436.8 l0.7 1.9 M494.4 443.9 l2.3 2.1 M539.0 456.6 l-5.0 2.4 M546.4 484.3 l-1.1 4.6 M545.5 463.3 l3.7 1.8 M523.4 444.3 l2.6 0.8 M533.9 477.2 l-1.8 3.3 M491.8 435.2 l-1.9 3.6 M518.8 443.9 l2.5 1.0 M498.1 466.2 l2.4 3.5 M517.0 463.5 l-3.6 3.7 M499.4 484.9 l-4.7 2.4 M518.5 484.5 l-2.5 1.6 M533.3 479.2 l-4.0 3.9 M523.3 469.9 l4.5 1.1 M499.2 472.7 l-3.3 1.1 M494.4 437.3 l-0.1 2.6 M536.6 466.7 l-0.0 4.7 M499.5 458.8 l4.1 0.6 M540.0 443.0 l-3.3 5.0 M510.4 445.8 l3.7 3.8 M495.1 475.3 l3.4 3.7 M545.9 479.1 l3.5 2.4 M510.0 480.5 l1.6 2.1 M515.6 439.5 l3.7 3.1 M510.6 444.6 l-3.0 0.6 M540.1 470.6 l-0.8 4.5 M526.6 478.7 l-1.8 2.5 M531.3 461.4 l-2.4 0.6 M518.5 485.3 l4.8 1.0 M546.7 466.7 l5.0 0.9 M506.6 462.0 l-2.7 1.8 M505.4 441.1 l1.1 2.1 M533.8 478.2 l4.0 0.7 M539.9 475.4 l2.8 3.0 M533.0 462.1 l-5.6 0.0 M550.8 441.5 l4.3 0.3 M526.5 448.8 l3.7 3.6 M540.2 435.7 l4.5 1.8 M516.6 443.0 l-3.3 0.5 M494.9 456.4 l1.3 4.4 M538.2 439.3 l0.5 5.6 M520.6 481.2 l-5.0 1.6 M531.0 440.7 l-3.2 0.2 M509.3 461.2 l-0.6 5.1 M524.0 482.9 l-3.6 2.9 M507.3 468.1 l-0.0 5.0 M507.3 476.2 l-1.7 2.1 M549.1 460.2 l0.6 3.3 M514.4 476.7 l-3.8 0.9 M523.5 459.4 l5.2 2.1 M516.5 436.4 l2.4 2.1 M539.5 444.3 l4.9 2.7 M509.2 483.4 l2.4 0.1 M503.2 455.3 l-0.4 3.3 M550.7 484.1 l-1.3 5.8 M544.3 485.7 l-0.7 2.3 M525.7 437.5 l1.7 5.7 M514.9 470.6 l-4.8 0.7 M514.1 461.7 l4.8 1.9 M530.8 451.9 l1.1 5.3 M493.1 446.4 l-2.0 4.8 M524.1 467.8 l4.3 0.1 M525.0 438.8 l-0.3 3.0 M511.8 476.1 l-1.8 1.0 M495.4 468.1 l-4.4 1.1 M511.5 473.7 l-2.2 0.6 M492.3 457.7 l-2.5 3.2 M520.1 443.3 l1.9 1.1 M519.3 448.7 l-1.0 3.7 M510.2 474.7 l1.9 3.4 M518.7 471.4 l-5.0 0.3 M490.0 474.1 l-0.3 4.5 M492.0 435.8 l2.5 0.1 M497.2 471.9 l-2.7 2.4 M503.6 457.8 l2.8 1.1 M518.0 481.6 l-1.6 1.9 " clip-path="url(#p5)" stroke="#3a9080" stroke-width="1.4" stroke-linecap="round" fill="none" opacity="1.0"/><path d="M528.9 481.3 l0.3 2.4 M549.0 462.1 l-1.6 1.8 M544.1 436.9 l2.6 1.5 M537.0 448.6 l-0.9 1.0 M512.7 457.9 l1.0 0.8 M522.0 468.6 l1.3 2.0 M551.9 437.9 l0.8 0.9 M532.7 456.5 l0.3 1.5 M539.0 474.5 l0.4 2.6 M504.6 452.9 l-1.4 0.2 M499.1 436.7 l-1.4 2.3 M493.3 459.9 l0.5 1.6 M504.8 455.0 l2.6 1.2 M502.5 462.8 l-1.0 2.1 M519.9 462.2 l-1.3 0.3 M502.6 450.7 l-1.3 1.3 M514.6 439.0 l2.1 0.9 M504.4 458.9 l1.2 1.1 M502.1 482.2 l-0.7 1.8 M504.4 478.5 l-0.2 1.2 M501.4 484.4 l1.0 1.5 M496.1 480.4 l1.5 1.5 M535.6 463.0 l0.6 1.4 M533.7 448.4 l-1.0 2.7 M548.1 469.9 l-0.4 1.3 M541.2 482.3 l0.5 1.0 " clip-path="url(#p5)" stroke="#ffffff" stroke-width="1.0" stroke-linecap="round" fill="none" opacity="0.55"/>
<circle cx="520" cy="469" r="2.6" fill="none" stroke="#2f5f58" stroke-width="1.4"/><circle cx="542.6" cy="468.2" r="2.6" fill="none" stroke="#2f5f58" stroke-width="1.4"/>
<path d="M536.5 438.4 Q545 437 546 445 L547.8 452.8" stroke="#3d4a55" stroke-width="0.9" fill="none"/>
<text x="521.5" y="425.5" font-size="9.5" fill="#222">e</text><text x="527" y="420.5" font-size="6" fill="#222">-</text>
<line x1="531" y1="421.5" x2="564" y2="421.5" stroke="#111" stroke-width="1.3"/><path d="M563 418.2 L569.5 421.5 L563 424.8 Z" fill="#111"/>
<text x="571.5" y="425.5" font-size="9.5" fill="#222">e</text><text x="577" y="420.5" font-size="6" fill="#222">-</text>
</svg>
</body></html>
